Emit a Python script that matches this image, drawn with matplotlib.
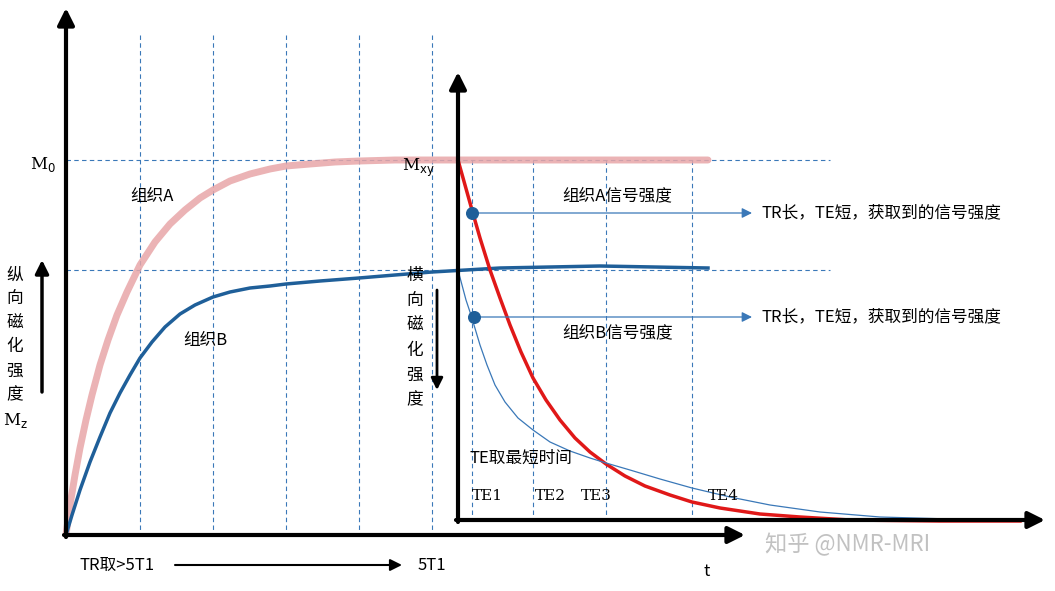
import matplotlib.pyplot as plt

plt.rcParams['font.family'] = ['Noto Sans CJK SC', 'DejaVu Sans']

# 曲线取点（像素坐标，y 向下）
a_x = [66, 70, 75, 80, 86, 92, 100, 108, 117, 127, 140, 155, 170, 185, 200, 213, 230, 250, 270, 286, 310, 335, 359, 395, 432, 708]
a_y = [535, 505, 475, 448, 420, 395, 365, 340, 315, 292, 265, 242, 224, 210, 198, 190, 181, 174, 169, 166, 164, 162, 161, 160, 160, 160]
b_x = [66, 72, 80, 90, 100, 110, 120, 130, 140, 152, 165, 180, 195, 213, 230, 250, 270, 286, 320, 359, 395, 432, 500, 600, 708]
b_y = [535, 515, 490, 462, 437, 413, 393, 375, 358, 342, 327, 314, 305, 297, 292, 288, 286, 284, 281, 278, 275, 272, 268, 266, 268]
red_x = [458, 465, 472, 480, 490, 500, 510, 521, 533, 546, 560, 575, 590, 606, 625, 645, 670, 692, 720, 760, 800, 850, 940, 1020]
red_y = [160, 185, 210, 238, 270, 298, 325, 352, 378, 400, 420, 438, 452, 464, 476, 486, 495, 502, 508, 514, 517, 520, 521, 521]
thin_x = [458, 462, 466, 470, 474, 480, 487, 495, 505, 518, 533, 550, 570, 590, 606, 630, 660, 692, 730, 770, 820, 880, 950, 1000]
thin_y = [270, 285, 300, 312, 325, 345, 365, 385, 402, 418, 430, 442, 451, 458, 463, 470, 479, 488, 497, 505, 512, 517, 519, 520]
dots_x = [472, 474]
dots_y = [213, 317]
te_labels = ['TE1', 'TE2', 'TE3', 'TE4']
te_x = [472, 535, 581, 708]

fig = plt.figure(figsize=(10.55, 5.91), dpi=100)
ax = fig.add_axes([0, 0, 1, 1])
ax.set_xlim(0, 1055)
ax.set_ylim(591, 0)
ax.axis('off')

def arrow(x0, y0, x1, y1, lw=3, hw=10, color='black'):
    ax.annotate('', xy=(x1, y1), xytext=(x0, y0),
                arrowprops=dict(arrowstyle=f'-|>,head_width={hw/20},head_length={hw/10}',
                                lw=lw, color=color, shrinkA=0, shrinkB=0))

# 网格虚线
dash = dict(color='#3a78b8', lw=0.8, ls=(0, (4, 3)))
for x in [140, 213, 286, 359, 432]:
    ax.plot([x, x], [35, 535], **dash)
for x in [472, 533, 606, 692]:
    ax.plot([x, x], [160, 520], **dash)
ax.plot([66, 830], [160, 160], **dash)
ax.plot([66, 830], [270, 270], **dash)

# 曲线
ax.plot(a_x, a_y, color='#e8a6a8', lw=5, alpha=0.85, solid_capstyle='round', solid_joinstyle='round')
ax.plot(b_x, b_y, color='#1f5f99', lw=2.5, solid_joinstyle='round')
ax.plot(red_x, red_y, color='#e01818', lw=2.5, solid_joinstyle='round')
ax.plot(thin_x, thin_y, color='#3a78b8', lw=0.9)
ax.scatter(dots_x, dots_y, s=70, color='#1f5f99', zorder=5)
for y in dots_y:
    arrow(476, y, 752, y, lw=0.9, hw=6, color='#3a78b8')

# 坐标轴
arrow(66, 537, 66, 8)
arrow(64, 535, 745, 535)
arrow(458, 522, 458, 72)
arrow(456, 520, 1045, 520)

# 文字
fs = 12
serif = 'DejaVu Serif'
ax.text(30, 165, r'M$_\mathrm{0}$', fontsize=fs, ha='left', va='center', family=serif)
ax.text(130, 196, '组织A', fontsize=fs, va='center')
ax.text(183, 340, '组织B', fontsize=fs, va='center')
for i, c in enumerate('纵向磁化强度'):
    ax.text(15, 275 + i * 24, c, fontsize=fs, ha='center', va='center')
ax.text(15, 420, r'M$_\mathrm{z}$', fontsize=fs, ha='center', va='center', family=serif)
arrow(42, 392, 42, 260, lw=2.5, hw=8)
ax.text(402, 168, r'M$_\mathrm{xy}$', fontsize=fs, va='center', family=serif)
for i, c in enumerate('横向磁化强度'):
    ax.text(415, 275 + i * 25, c, fontsize=fs, ha='center', va='center')
arrow(437, 290, 437, 390, lw=2, hw=7)
ax.text(562, 196, '组织A信号强度', fontsize=fs, va='center')
ax.text(562, 333, '组织B信号强度', fontsize=fs, va='center')
ax.text(762, 213, 'TR长，TE短，获取到的信号强度', fontsize=fs, va='center')
ax.text(762, 317, 'TR长，TE短，获取到的信号强度', fontsize=fs, va='center')
ax.text(470, 458, 'TE取最短时间', fontsize=fs, va='center')
for lab, x in zip(te_labels, te_x):
    ax.text(x, 496, lab, fontsize=fs - 1, va='center', family=serif)
ax.text(80, 565, 'TR取>5T1', fontsize=fs, va='center')
arrow(175, 565, 402, 565, lw=1.5, hw=7)
ax.text(418, 565, '5T1', fontsize=fs, va='center')
ax.text(704, 572, 't', fontsize=fs, va='center')
ax.text(765, 545, '知乎 @NMR-MRI', fontsize=16, color='#bbbbbb', va='center', alpha=0.9)

fig.savefig('out.png', dpi=100)
